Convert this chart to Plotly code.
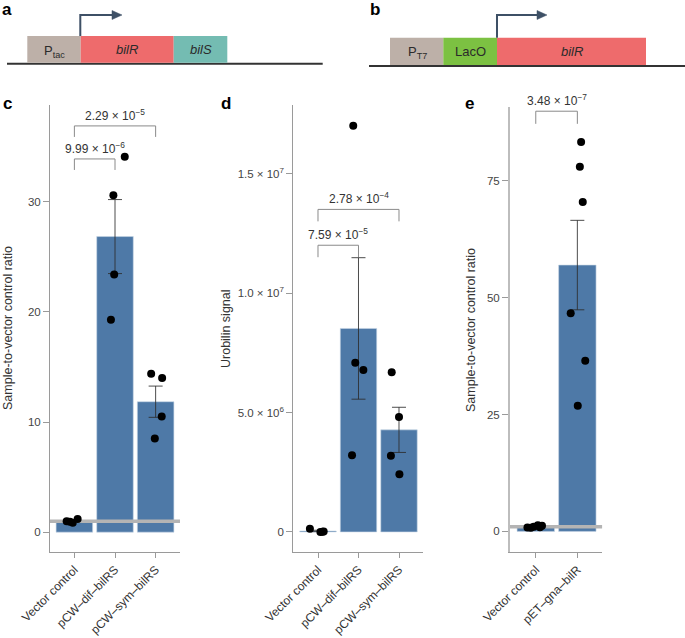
import numpy as np
import plotly.graph_objects as go

W, H = 685, 638

# ---------------- data ----------------
cats_c = ["Vector control", "pCW\u2013dif\u2013bilRS", "pCW\u2013sym\u2013bilRS"]
c_vector = [1.0, 0.85, 1.2, 0.95]
c_dif = [34.1, 30.6, 23.4, 19.3]
c_sym = [14.4, 14.0, 10.5, 8.5]

cats_d = ["Vector control", "pCW\u2013dif\u2013bilRS", "pCW\u2013sym\u2013bilRS"]
d_vector = [0.13e6, 0.0, 0.01e6, 0.02e6]
d_dif = [17.0e6, 7.08e6, 6.78e6, 3.21e6]
d_sym = [6.68e6, 4.81e6, 3.19e6, 2.41e6]

cats_e = ["Vector control", "pET\u2013gna\u2013bilR"]
e_vector = [0.85, 0.8, 1.0, 1.3, 1.2, 0.9]
e_pet = [83.3, 78.0, 70.5, 46.7, 36.5, 26.9]

# horizontal jitter of points (category units)
jit_c = [[-0.19, -0.04, 0.08, -0.11], [0.24, -0.04, -0.02, -0.10], [-0.11, 0.16, 0.15, -0.02]]
jit_d = [[-0.20, 0.06, 0.11, 0.14], [-0.13, -0.08, 0.12, -0.16], [-0.18, 0.00, -0.20, 0.01]]
jit_e = [[-0.20, -0.12, -0.05, 0.05, 0.15, 0.10], [0.09, 0.06, 0.13, -0.16, 0.19, 0.01]]

# p-values for comparisons (group i, group j, level, label)
brackets_c = [(0, 1, 33.9, "9.99 \u00d7 10<sup>\u22126</sup>"), (0, 2, 36.9, "2.29 \u00d7 10<sup>\u22125</sup>")]
brackets_d = [(0, 1, 12.0e6, "7.59 \u00d7 10<sup>\u22125</sup>"), (0, 2, 13.5e6, "2.78 \u00d7 10<sup>\u22124</sup>")]
brackets_e = [(0, 1, 89.9, "3.48 \u00d7 10<sup>\u22127</sup>")]

REF_RATIO = 1.0

# ---------------- style ----------------
FONT = "Liberation Sans"
BLUE = "#4E79A7"
AX = "#9a9a9a"
TXT = "#333333"


def px(x):
    return x / W


def py(y):
    return 1 - y / H


fig = go.Figure()


def panel(groups, jits, cats, xa, ya, xr, brackets, leg, ref=None):
    n = len(groups)
    xs = list(range(n))
    means = [float(np.mean(g)) for g in groups]
    sems = [float(np.std(g, ddof=1) / np.sqrt(len(g))) for g in groups]
    fig.add_trace(go.Bar(
        x=xs, y=means, width=0.9, xaxis=xa, yaxis=ya,
        marker=dict(color=BLUE, line=dict(color="#c9d6e6", width=0.6)),
        error_y=dict(type="data", array=sems, color="rgba(45,45,45,0.85)", thickness=1, width=7),
        showlegend=False, hoverinfo="skip"))
    if ref is not None:
        fig.add_trace(go.Scatter(
            x=[xr[0], xr[1]], y=[ref, ref], mode="lines", xaxis=xa, yaxis=ya,
            line=dict(color="#b4b4b4", width=3.5), showlegend=False, hoverinfo="skip"))
    for k, (g, j) in enumerate(zip(groups, jits)):
        fig.add_trace(go.Scatter(
            x=[k + o for o in j], y=g, mode="markers", xaxis=xa, yaxis=ya,
            marker=dict(color="black", size=8), showlegend=False, hoverinfo="skip"))
    for (i, k, h, lab) in brackets:
        fig.add_trace(go.Scatter(
            x=[i, i, k, k], y=[h - leg, h, h, h - leg], mode="lines", xaxis=xa, yaxis=ya,
            line=dict(color="#8a8a8a", width=1), showlegend=False, hoverinfo="skip"))
        fig.add_annotation(x=(i + k) / 2, y=h, xref=xa, yref=ya, text=lab, showarrow=False,
                           xanchor="center", yanchor="bottom", yshift=1,
                           font=dict(family=FONT, size=12, color=TXT))


xr_c = [-0.6, 2.6]
xr_d = [-0.61, 2.6]
xr_e = [-0.62, 1.6]

panel([c_vector, c_dif, c_sym], jit_c, cats_c, "x", "y", xr_c, brackets_c, 1.0, REF_RATIO)
panel([d_vector, d_dif, d_sym], jit_d, cats_d, "x2", "y2", xr_d, brackets_d, 0.5e6)
panel([e_vector, e_pet], jit_e, cats_e, "x3", "y3", xr_e, brackets_e, 2.7, REF_RATIO)

common_x = dict(showline=True, linecolor=AX, linewidth=1, ticks="outside", ticklen=5, tickcolor=AX,
                tickangle=-45, showgrid=False, zeroline=False, fixedrange=True, automargin=False,
                tickfont=dict(family=FONT, size=12, color=TXT))
common_y = dict(showline=True, linecolor=AX, linewidth=1, ticks="outside", ticklen=6, tickcolor=AX,
                showgrid=False, zeroline=False, fixedrange=True, automargin=False,
                tickfont=dict(family=FONT, size=11.5, color="#444444"))

fig.update_layout(
    width=W, height=H, margin=dict(l=0, r=0, t=0, b=0, pad=0, autoexpand=False),
    autosize=False,
    paper_bgcolor="white", plot_bgcolor="white",
    xaxis=dict(domain=[px(50), px(180)], range=xr_c, anchor="y",
               tickvals=list(range(len(cats_c))), ticktext=cats_c, **common_x),
    yaxis=dict(domain=[py(552), py(105)], range=[-1.8, 38.8], anchor="x",
               tickvals=[0, 10, 20, 30], **common_y),
    xaxis2=dict(domain=[px(293.3), px(423.3)], range=xr_d, anchor="y2",
                tickvals=list(range(len(cats_d))), ticktext=cats_d, **common_x),
    yaxis2=dict(domain=[py(552), py(105)], range=[-0.84e6, 17.87e6], anchor="x2",
                tickvals=[0, 5e6, 1e7, 1.5e7],
                ticktext=["0", "5.0 \u00d7 10<sup>6</sup>", "1.0 \u00d7 10<sup>7</sup>", "1.5 \u00d7 10<sup>7</sup>"],
                **common_y),
    xaxis3=dict(domain=[px(510), px(602.3)], range=xr_e, anchor="y3",
                tickvals=list(range(len(cats_e))), ticktext=cats_e, **common_x),
    yaxis3=dict(domain=[py(552), py(107)], range=[-4.4, 90.8], anchor="x3",
                tickvals=[0, 25, 50, 75], **common_y),
)
fig.update_layout(yaxis3=dict(linecolor="#bdbdbd", linewidth=2))


def label(xpix, ypix, text, size, color, angle=0):
    fig.add_annotation(x=px(xpix), y=py(ypix), xref="paper", yref="paper", text=text, textangle=angle,
                       showarrow=False, xanchor="center", yanchor="middle",
                       font=dict(family=FONT, size=size, color=color))


# y-axis titles
for xpix, ypix, t in [(8, 328, "Sample-to-vector control ratio"), (226, 328, "Urobilin signal"),
                      (471, 330, "Sample-to-vector control ratio")]:
    label(xpix, ypix, t, 12.5, TXT, -90)

# panel letters
for xpix, ypix, t in [(7, 10, "a"), (375, 10, "b"), (7, 104, "c"), (226, 104, "d"), (469, 104, "e")]:
    label(xpix, ypix, "<b>%s</b>" % t, 17, "black")

# ---------------- gene diagrams (a, b) ----------------
shapes = []


def rect(x0, x1, y0, y1, color):
    shapes.append(dict(type="rect", xref="paper", yref="paper", x0=px(x0), x1=px(x1), y0=py(y1), y1=py(y0),
                       fillcolor=color, line=dict(width=0), layer="above"))


def line(x0, y0, x1, y1, color, w):
    shapes.append(dict(type="line", xref="paper", yref="paper", x0=px(x0), y0=py(y0), x1=px(x1), y1=py(y1),
                       line=dict(color=color, width=w), layer="above"))


def path(pts, color, w, fill=None):
    d = "M " + " L ".join("%f,%f" % (px(a), py(b)) for a, b in pts)
    if fill:
        d += " Z"
    shapes.append(dict(type="path", xref="paper", yref="paper", path=d,
                       line=dict(color=color, width=w), fillcolor=fill, layer="above"))


GRAYB = "#BDB0A8"
RED = "#EE6B6C"
TEAL = "#74BCB2"
GREEN = "#7CC142"
ARW = "#3E5066"

# a
line(7, 63.8, 322.7, 63.8, "#333333", 2)
rect(27.3, 80.7, 36, 62.8, GRAYB)
rect(80.7, 173.7, 36, 62.8, RED)
rect(173.7, 227.3, 36, 62.8, TEAL)
path([(80.3, 36), (80.3, 15), (114, 15)], ARW, 2)
path([(112, 10.5), (122, 15), (112, 19.5)], ARW, 0.5, fill=ARW)
# b
line(369, 66, 685, 66, "#333333", 2)
rect(390, 443.3, 37.7, 65, GRAYB)
rect(443.3, 497, 37.7, 65, GREEN)
rect(497, 646, 37.7, 65, RED)
path([(497, 37.7), (497, 15), (538, 15)], ARW, 2)
path([(537, 10.5), (547, 15), (537, 19.5)], ARW, 0.5, fill=ARW)

fig.update_layout(shapes=shapes)

for xpix, ypix, t in [(54, 51, "P<sub>tac</sub>"), (127, 49.5, "<i>bilR</i>"), (200.5, 49.5, "<i>bilS</i>"),
                      (417, 52.5, "P<sub>T7</sub>"), (470, 51.5, "LacO"), (571.5, 51.5, "<i>bilR</i>")]:
    label(xpix, ypix, t, 13, "#2b2b2b")

fig.write_html("out.html", config={"displayModeBar": False},
               post_script="document.body.style.margin='0';")
